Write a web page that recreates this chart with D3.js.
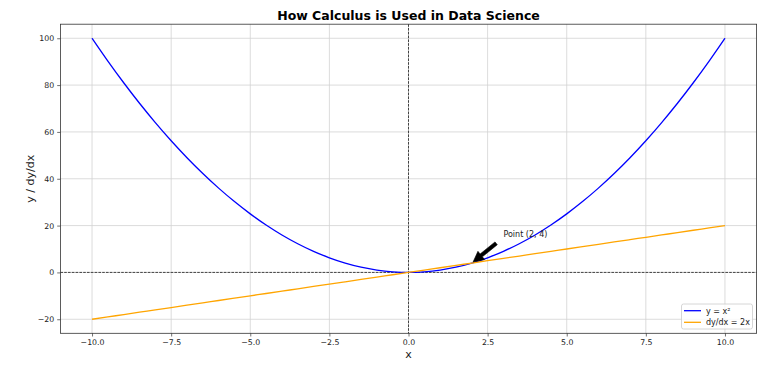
<!DOCTYPE html>
<html>
<head>
<meta charset="utf-8">
<script src="https://cdn.jsdelivr.net/npm/d3@7"></script>
<style>
  body { margin: 0; background: #fff; }
  svg { display: block; font-family: "DejaVu Sans", sans-serif; }
</style>
</head>
<body>
<svg id="chart" width="768" height="373"></svg>
<script>
// Data
const xValues = [-10, -9.5, -9, -8.5, -8, -7.5, -7, -6.5, -6, -5.5, -5, -4.5, -4, -3.5, -3, -2.5, -2, -1.5, -1, -0.5,
  0, 0.5, 1, 1.5, 2, 2.5, 3, 3.5, 4, 4.5, 5, 5.5, 6, 6.5, 7, 7.5, 8, 8.5, 9, 9.5, 10];
const squareValues = [100, 90.25, 81, 72.25, 64, 56.25, 49, 42.25, 36, 30.25, 25, 20.25, 16, 12.25, 9, 6.25, 4, 2.25, 1, 0.25,
  0, 0.25, 1, 2.25, 4, 6.25, 9, 12.25, 16, 20.25, 25, 30.25, 36, 42.25, 49, 56.25, 64, 72.25, 81, 90.25, 100];
const derivValues = [-20, -19, -18, -17, -16, -15, -14, -13, -12, -11, -10, -9, -8, -7, -6, -5, -4, -3, -2, -1,
  0, 1, 2, 3, 4, 5, 6, 7, 8, 9, 10, 11, 12, 13, 14, 15, 16, 17, 18, 19, 20];
const xTicks = [-10, -7.5, -5, -2.5, 0, 2.5, 5, 7.5, 10];
const yTicks = [-20, 0, 20, 40, 60, 80, 100];
const seriesNames = ["y = x²", "dy/dx = 2x"];
const seriesColors = ["blue", "orange"];
const notePoint = [2, 4];
const noteTextPos = [3, 15];
const noteLabel = "Point (2, 4)";

const svg = d3.select("#chart");
const plot = { left: 60.4, right: 756.6, top: 24.2, bottom: 333.3 };

const x = d3.scaleLinear().domain([-11, 11]).range([plot.left, plot.right]);
const y = d3.scaleLinear().domain([-26, 106]).range([plot.bottom, plot.top]);

// Grid
const grid = svg.append("g").attr("stroke", "#d3d3d3").attr("stroke-width", 0.8);
grid.selectAll(".gx").data(xTicks).join("line")
  .attr("x1", d => x(d)).attr("x2", d => x(d))
  .attr("y1", plot.top).attr("y2", plot.bottom);
grid.selectAll(".gy").data(yTicks).join("line")
  .attr("x1", plot.left).attr("x2", plot.right)
  .attr("y1", d => y(d)).attr("y2", d => y(d));

// Dashed zero lines
svg.append("line")
  .attr("x1", plot.left).attr("x2", plot.right)
  .attr("y1", y(0)).attr("y2", y(0))
  .attr("stroke", "#000").attr("stroke-width", 0.7).attr("stroke-dasharray", "2.6,1.2");
svg.append("line")
  .attr("x1", x(0)).attr("x2", x(0))
  .attr("y1", plot.top).attr("y2", plot.bottom)
  .attr("stroke", "#000").attr("stroke-width", 0.7).attr("stroke-dasharray", "2.6,1.2");

// Curves
const line = d3.line().x(d => x(d[0])).y(d => y(d[1])).curve(d3.curveMonotoneX);
const series = [squareValues, derivValues].map(vals => xValues.map((v, i) => [v, vals[i]]));
svg.selectAll(".curve").data(series).join("path")
  .attr("fill", "none")
  .attr("stroke", (d, i) => seriesColors[i])
  .attr("stroke-width", 1.3)
  .attr("d", line);

// Axes
const xAxis = svg.append("g")
  .attr("transform", `translate(0,${plot.bottom})`)
  .call(d3.axisBottom(x).tickValues(xTicks).tickSize(3.2).tickPadding(3)
    .tickFormat(d => d3.format(".1f")(d).replace("-", "−")));
const yAxis = svg.append("g")
  .attr("transform", `translate(${plot.left},0)`)
  .call(d3.axisLeft(y).tickValues(yTicks).tickSize(3.2).tickPadding(3)
    .tickFormat(d => String(d).replace("-", "−")));
[xAxis, yAxis].forEach(a => {
  a.select(".domain").remove();
  a.selectAll("text").attr("font-size", 7.8).attr("fill", "#222").attr("font-family", "DejaVu Sans");
  a.selectAll(".tick line").attr("stroke", "#333").attr("stroke-width", 0.7);
});

// Frame
svg.append("rect")
  .attr("x", plot.left).attr("y", plot.top)
  .attr("width", plot.right - plot.left).attr("height", plot.bottom - plot.top)
  .attr("fill", "none").attr("stroke", "#333").attr("stroke-width", 0.8);

// Titles
svg.append("text")
  .attr("x", (plot.left + plot.right) / 2).attr("y", 20)
  .attr("text-anchor", "middle").attr("font-size", 12.5).attr("font-weight", "bold")
  .text("How Calculus is Used in Data Science");
svg.append("text")
  .attr("x", (plot.left + plot.right) / 2).attr("y", 358)
  .attr("text-anchor", "middle").attr("font-size", 11).attr("fill", "#222")
  .text("x");
svg.append("text")
  .attr("transform", `translate(34,${(plot.top + plot.bottom) / 2}) rotate(-90)`)
  .attr("text-anchor", "middle").attr("font-size", 11).attr("fill", "#222")
  .text("y / dy/dx");

// Annotation arrow
const tip = [x(notePoint[0]), y(notePoint[1])];
const tail = [x(noteTextPos[0]) - 6, y(noteTextPos[1]) + 5];
const dx = tip[0] - tail[0], dy = tip[1] - tail[1];
const len = Math.hypot(dx, dy);
const ux = dx / len, uy = dy / len, nx = -uy, ny = ux;
const s0 = [tail[0] + ux * len * 0.05, tail[1] + uy * len * 0.05];
const s1 = [tip[0] - ux * len * 0.05, tip[1] - uy * len * 0.05];
const headLen = 10.5, headW = 10.5, tailW = 3.6;
const base = [s1[0] - ux * headLen, s1[1] - uy * headLen];
const arrowPts = [
  [s0[0] + nx * tailW / 2, s0[1] + ny * tailW / 2],
  [base[0] + nx * tailW / 2, base[1] + ny * tailW / 2],
  [base[0] + nx * headW / 2, base[1] + ny * headW / 2],
  s1,
  [base[0] - nx * headW / 2, base[1] - ny * headW / 2],
  [base[0] - nx * tailW / 2, base[1] - ny * tailW / 2],
  [s0[0] - nx * tailW / 2, s0[1] - ny * tailW / 2]
];
svg.append("path")
  .attr("d", d3.line()(arrowPts) + "Z")
  .attr("fill", "#000").attr("stroke", "#000").attr("stroke-width", 0.6);
svg.append("text")
  .attr("x", x(noteTextPos[0])).attr("y", y(noteTextPos[1]))
  .attr("font-size", 8).attr("fill", "#222")
  .text(noteLabel);

// Legend
const legend = svg.append("g").attr("transform", "translate(681.5,304)");
legend.append("rect")
  .attr("width", 71).attr("height", 25).attr("rx", 2)
  .attr("fill", "#fff").attr("fill-opacity", 0.8)
  .attr("stroke", "#cccccc").attr("stroke-width", 0.8);
const items = legend.selectAll(".item").data(seriesNames).join("g")
  .attr("transform", (d, i) => `translate(0,${6.7 + i * 11.6})`);
items.append("line")
  .attr("x1", 2.5).attr("x2", 19.5)
  .attr("stroke", (d, i) => seriesColors[i]).attr("stroke-width", 1.3);
items.append("text")
  .attr("x", 24.5).attr("y", 2.8)
  .attr("font-size", 8).attr("fill", "#222")
  .text(d => d);
</script>
</body>
</html>
